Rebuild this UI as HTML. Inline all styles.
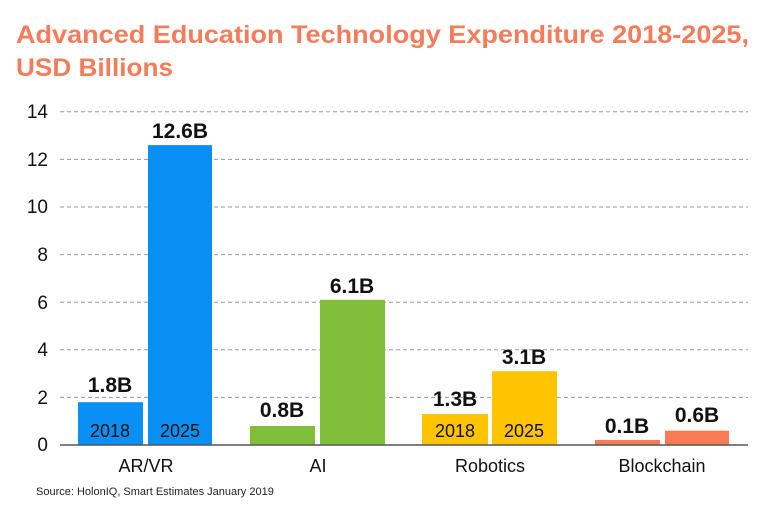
<!DOCTYPE html>
<html><head><meta charset="utf-8"><style>
body{margin:0;background:#fff;width:768px;height:517px;overflow:hidden;font-family:"Liberation Sans",sans-serif}
</style></head><body>
<svg width="768" height="517" xmlns="http://www.w3.org/2000/svg" font-family="Liberation Sans, sans-serif">
<text x="16" y="43" font-size="25" font-weight="bold" fill="#F47C5A" textLength="733" lengthAdjust="spacingAndGlyphs">Advanced Education Technology Expenditure 2018-2025,</text>
<text x="16" y="76" font-size="25" font-weight="bold" fill="#F47C5A" textLength="157" lengthAdjust="spacingAndGlyphs">USD Billions</text>
<g stroke="#999" stroke-dasharray="4,3" stroke-width="1">
<line x1="60" x2="748" y1="397.4" y2="397.4"/><line x1="60" x2="748" y1="349.8" y2="349.8"/>
<line x1="60" x2="748" y1="302.2" y2="302.2"/><line x1="60" x2="748" y1="254.6" y2="254.6"/>
<line x1="60" x2="748" y1="207" y2="207"/><line x1="60" x2="748" y1="159.4" y2="159.4"/>
<line x1="60" x2="748" y1="111.8" y2="111.8"/>
</g>
<g font-size="19" fill="#111" text-anchor="end">
<text x="48" y="451">0</text><text x="48" y="404">2</text><text x="48" y="356">4</text>
<text x="48" y="309">6</text><text x="48" y="261">8</text><text x="48" y="213">10</text>
<text x="48" y="166">12</text><text x="48" y="118">14</text>
</g>
<rect x="78" y="402.2" width="65" height="42.8" fill="#0A8FF5"/>
<rect x="148" y="145.1" width="64" height="299.9" fill="#0A8FF5"/>
<rect x="250" y="426" width="65" height="19" fill="#80BE3A"/>
<rect x="320" y="299.8" width="65" height="145.2" fill="#80BE3A"/>
<rect x="422" y="414" width="66" height="31" fill="#FFC400"/>
<rect x="492" y="371.2" width="65" height="73.8" fill="#FFC400"/>
<rect x="595" y="440" width="65" height="5" fill="#F87B56"/>
<rect x="665" y="430.7" width="64" height="14.3" fill="#F87B56"/>
<line x1="60" x2="748" y1="445" y2="445" stroke="#555" stroke-width="1.5"/>
<g font-size="21" font-weight="bold" fill="#111" text-anchor="middle">
<text x="110" y="392">1.8B</text><text x="180" y="138">12.6B</text>
<text x="282" y="417">0.8B</text><text x="352" y="293">6.1B</text>
<text x="455" y="406">1.3B</text><text x="524" y="364">3.1B</text>
<text x="627" y="433">0.1B</text><text x="697" y="422">0.6B</text>
</g>
<g font-size="18" fill="#111" text-anchor="middle">
<text x="110" y="437">2018</text><text x="180" y="437">2025</text>
<text x="455" y="437">2018</text><text x="524" y="437">2025</text>
</g>
<g font-size="18" fill="#111" text-anchor="middle">
<text x="146" y="472">AR/VR</text><text x="318" y="472">AI</text>
<text x="490" y="472">Robotics</text><text x="662" y="472">Blockchain</text>
</g>
<text x="36" y="495" font-size="11" fill="#222">Source: HolonIQ, Smart Estimates January 2019</text>
</svg>
</body></html>
